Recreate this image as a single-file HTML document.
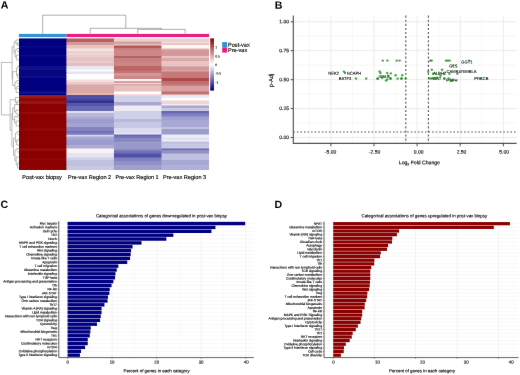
<!DOCTYPE html>
<html lang="en"><head><meta charset="utf-8"><title>Figure</title>
<style>
html,body{margin:0;padding:0;background:#fff;}
body{width:520px;height:375px;overflow:hidden;}
svg{display:block;font-family:'Liberation Sans', Arial, Helvetica, sans-serif;}
svg text{font-family:'Liberation Sans', Arial, Helvetica, sans-serif;text-rendering:geometricPrecision;}
</style></head><body>
<svg width="520" height="375" viewBox="0 0 520 375" text-rendering="geometricPrecision">
<defs><filter id="soft" x="0" y="0" width="520" height="375" filterUnits="userSpaceOnUse" color-interpolation-filters="sRGB"><feConvolveMatrix order="3" kernelMatrix="0.00163 0.03713 0.00163 0.03713 0.84497 0.03713 0.00163 0.03713 0.00163" edgeMode="duplicate" preserveAlpha="true"/></filter></defs>
<g filter="url(#soft)">
<rect width="520" height="375" fill="#ffffff"/>
<defs><clipPath id="hc"><rect x="18.9" y="38.1" width="190.2" height="131.8"/></clipPath></defs>
<g clip-path="url(#hc)"><g>
<rect x="18.90" y="38.40" width="48.32" height="8.20" fill="#000080"/>
<rect x="18.90" y="46.00" width="48.32" height="2.10" fill="#0a0a86"/>
<rect x="18.90" y="47.50" width="48.32" height="8.10" fill="#000080"/>
<rect x="18.90" y="55.00" width="48.32" height="2.10" fill="#0c0c88"/>
<rect x="18.90" y="56.50" width="48.32" height="10.10" fill="#000080"/>
<rect x="18.90" y="66.00" width="48.32" height="4.60" fill="#10108a"/>
<rect x="18.90" y="70.00" width="48.32" height="6.60" fill="#06067f"/>
<rect x="18.90" y="76.00" width="48.32" height="2.60" fill="#0e0e8a"/>
<rect x="18.90" y="78.00" width="48.32" height="14.10" fill="#000080"/>
<rect x="18.90" y="91.50" width="48.32" height="2.60" fill="#141490"/>
<rect x="18.90" y="93.50" width="48.32" height="2.10" fill="#000080"/>
<rect x="18.90" y="95.00" width="48.32" height="3.60" fill="#9a1a1a"/>
<rect x="18.90" y="98.00" width="48.32" height="3.60" fill="#8e0808"/>
<rect x="18.90" y="101.00" width="48.32" height="3.60" fill="#961414"/>
<rect x="18.90" y="104.00" width="48.32" height="8.60" fill="#8b0000"/>
<rect x="18.90" y="112.00" width="48.32" height="2.60" fill="#900a0a"/>
<rect x="18.90" y="114.00" width="48.32" height="14.60" fill="#8b0000"/>
<rect x="18.90" y="128.00" width="48.32" height="3.60" fill="#8f0808"/>
<rect x="18.90" y="131.00" width="48.32" height="17.60" fill="#8b0000"/>
<rect x="18.90" y="148.00" width="48.32" height="3.60" fill="#920c0c"/>
<rect x="18.90" y="151.00" width="48.32" height="7.60" fill="#8b0000"/>
<rect x="18.90" y="158.00" width="48.32" height="2.60" fill="#8f0606"/>
<rect x="18.90" y="160.00" width="48.32" height="10.20" fill="#8b0000"/>
<rect x="66.42" y="38.40" width="48.32" height="4.20" fill="#b86060"/>
<rect x="66.42" y="42.00" width="48.32" height="3.60" fill="#d49a9a"/>
<rect x="66.42" y="45.00" width="48.32" height="4.10" fill="#e8c4c4"/>
<rect x="66.42" y="48.50" width="48.32" height="3.10" fill="#f5e4e4"/>
<rect x="66.42" y="51.00" width="48.32" height="3.10" fill="#ecd0d0"/>
<rect x="66.42" y="53.50" width="48.32" height="2.10" fill="#f0d8d8"/>
<rect x="66.42" y="55.00" width="48.32" height="3.10" fill="#ebcccc"/>
<rect x="66.42" y="57.50" width="48.32" height="4.10" fill="#e6c2c2"/>
<rect x="66.42" y="61.00" width="48.32" height="2.60" fill="#e9c9c9"/>
<rect x="66.42" y="63.00" width="48.32" height="3.60" fill="#e4bebe"/>
<rect x="66.42" y="66.00" width="48.32" height="4.10" fill="#e8e8f4"/>
<rect x="66.42" y="69.50" width="48.32" height="2.60" fill="#fcfcff"/>
<rect x="66.42" y="71.50" width="48.32" height="3.10" fill="#e4e4f2"/>
<rect x="66.42" y="74.00" width="48.32" height="6.10" fill="#ffffff"/>
<rect x="66.42" y="79.50" width="48.32" height="3.10" fill="#f3dede"/>
<rect x="66.42" y="82.00" width="48.32" height="3.10" fill="#ebcaca"/>
<rect x="66.42" y="84.50" width="48.32" height="9.10" fill="#dba8a8"/>
<rect x="66.42" y="93.00" width="48.32" height="2.60" fill="#e8b4a8"/>
<rect x="66.42" y="95.00" width="48.32" height="4.60" fill="#5050a8"/>
<rect x="66.42" y="99.00" width="48.32" height="2.60" fill="#4545a0"/>
<rect x="66.42" y="101.00" width="48.32" height="2.30" fill="#2a2a90"/>
<rect x="66.42" y="102.70" width="48.32" height="3.90" fill="#5555aa"/>
<rect x="66.42" y="106.00" width="48.32" height="5.60" fill="#6868b4"/>
<rect x="66.42" y="111.00" width="48.32" height="2.60" fill="#e0e0f0"/>
<rect x="66.42" y="113.00" width="48.32" height="4.60" fill="#b8b8dc"/>
<rect x="66.42" y="117.00" width="48.32" height="3.10" fill="#a8a8d4"/>
<rect x="66.42" y="119.50" width="48.32" height="4.10" fill="#9c9cce"/>
<rect x="66.42" y="123.00" width="48.32" height="4.60" fill="#a4a4d2"/>
<rect x="66.42" y="127.00" width="48.32" height="4.60" fill="#8484c2"/>
<rect x="66.42" y="131.00" width="48.32" height="3.10" fill="#7070b8"/>
<rect x="66.42" y="133.50" width="48.32" height="2.10" fill="#9090c8"/>
<rect x="66.42" y="135.00" width="48.32" height="2.10" fill="#d8d8ec"/>
<rect x="66.42" y="136.50" width="48.32" height="3.60" fill="#a8a8d4"/>
<rect x="66.42" y="139.50" width="48.32" height="6.10" fill="#9c9cce"/>
<rect x="66.42" y="145.00" width="48.32" height="4.10" fill="#acacd6"/>
<rect x="66.42" y="148.50" width="48.32" height="5.10" fill="#fbf3f3"/>
<rect x="66.42" y="153.00" width="48.32" height="5.10" fill="#e4e4f2"/>
<rect x="66.42" y="157.50" width="48.32" height="3.10" fill="#d0d0e8"/>
<rect x="66.42" y="160.00" width="48.32" height="6.60" fill="#c0c0e0"/>
<rect x="66.42" y="166.00" width="48.32" height="4.20" fill="#c8c8e4"/>
<rect x="113.95" y="38.40" width="48.33" height="3.70" fill="#ecd0d0"/>
<rect x="113.95" y="41.50" width="48.33" height="3.10" fill="#d8a0a0"/>
<rect x="113.95" y="44.00" width="48.33" height="2.10" fill="#e8c4c4"/>
<rect x="113.95" y="45.50" width="48.33" height="3.10" fill="#b85858"/>
<rect x="113.95" y="48.00" width="48.33" height="2.60" fill="#c87c7c"/>
<rect x="113.95" y="50.00" width="48.33" height="6.60" fill="#cc8888"/>
<rect x="113.95" y="56.00" width="48.33" height="2.60" fill="#b86060"/>
<rect x="113.95" y="58.00" width="48.33" height="4.60" fill="#c88080"/>
<rect x="113.95" y="62.00" width="48.33" height="4.60" fill="#cb8686"/>
<rect x="113.95" y="66.00" width="48.33" height="5.10" fill="#bc6464"/>
<rect x="113.95" y="70.50" width="48.33" height="3.10" fill="#c47474"/>
<rect x="113.95" y="73.00" width="48.33" height="3.60" fill="#d49898"/>
<rect x="113.95" y="76.00" width="48.33" height="3.60" fill="#cc8888"/>
<rect x="113.95" y="79.00" width="48.33" height="2.60" fill="#fcf4f4"/>
<rect x="113.95" y="81.00" width="48.33" height="2.60" fill="#d8a0a0"/>
<rect x="113.95" y="83.00" width="48.33" height="1.60" fill="#f0d8d8"/>
<rect x="113.95" y="84.00" width="48.33" height="2.10" fill="#dca8a8"/>
<rect x="113.95" y="85.50" width="48.33" height="6.60" fill="#e8c0c0"/>
<rect x="113.95" y="91.50" width="48.33" height="3.10" fill="#ffffff"/>
<rect x="113.95" y="94.00" width="48.33" height="2.10" fill="#f4dcd8"/>
<rect x="113.95" y="95.50" width="48.33" height="7.10" fill="#d0d0e8"/>
<rect x="113.95" y="102.00" width="48.33" height="4.10" fill="#a8a8d4"/>
<rect x="113.95" y="105.50" width="48.33" height="2.60" fill="#f8e8e8"/>
<rect x="113.95" y="107.50" width="48.33" height="4.10" fill="#ececf6"/>
<rect x="113.95" y="111.00" width="48.33" height="8.60" fill="#d0d0e8"/>
<rect x="113.95" y="119.00" width="48.33" height="3.60" fill="#b8b8dc"/>
<rect x="113.95" y="122.00" width="48.33" height="6.60" fill="#c8c8e4"/>
<rect x="113.95" y="128.00" width="48.33" height="6.10" fill="#dcdcee"/>
<rect x="113.95" y="133.50" width="48.33" height="1.60" fill="#f4f4fa"/>
<rect x="113.95" y="134.50" width="48.33" height="2.10" fill="#6464b2"/>
<rect x="113.95" y="136.00" width="48.33" height="2.60" fill="#7474ba"/>
<rect x="113.95" y="138.00" width="48.33" height="4.60" fill="#8888c4"/>
<rect x="113.95" y="142.00" width="48.33" height="1.60" fill="#a0a0d0"/>
<rect x="113.95" y="143.00" width="48.33" height="7.10" fill="#9898cc"/>
<rect x="113.95" y="149.50" width="48.33" height="2.10" fill="#8080c0"/>
<rect x="113.95" y="151.00" width="48.33" height="3.10" fill="#7070b8"/>
<rect x="113.95" y="153.50" width="48.33" height="4.60" fill="#5050a8"/>
<rect x="113.95" y="157.50" width="48.33" height="4.10" fill="#8080c0"/>
<rect x="113.95" y="161.00" width="48.33" height="4.60" fill="#9090c8"/>
<rect x="113.95" y="165.00" width="48.33" height="5.20" fill="#a0a0d0"/>
<rect x="161.47" y="38.40" width="48.33" height="4.20" fill="#ecd0d0"/>
<rect x="161.47" y="42.00" width="48.33" height="1.60" fill="#f4e0e0"/>
<rect x="161.47" y="43.00" width="48.33" height="2.60" fill="#e8c4c4"/>
<rect x="161.47" y="45.00" width="48.33" height="4.10" fill="#fcf6f4"/>
<rect x="161.47" y="48.50" width="48.33" height="2.10" fill="#e0b0b0"/>
<rect x="161.47" y="50.00" width="48.33" height="6.60" fill="#d49898"/>
<rect x="161.47" y="56.00" width="48.33" height="2.60" fill="#e8c4c4"/>
<rect x="161.47" y="58.00" width="48.33" height="3.60" fill="#dca8a8"/>
<rect x="161.47" y="61.00" width="48.33" height="6.10" fill="#e8c4c4"/>
<rect x="161.47" y="66.50" width="48.33" height="4.10" fill="#d49898"/>
<rect x="161.47" y="70.00" width="48.33" height="2.10" fill="#dca8a8"/>
<rect x="161.47" y="71.50" width="48.33" height="7.10" fill="#c47878"/>
<rect x="161.47" y="78.00" width="48.33" height="3.60" fill="#b04848"/>
<rect x="161.47" y="81.00" width="48.33" height="4.10" fill="#c07070"/>
<rect x="161.47" y="84.50" width="48.33" height="2.10" fill="#c88484"/>
<rect x="161.47" y="86.00" width="48.33" height="6.10" fill="#d8a0a0"/>
<rect x="161.47" y="91.50" width="48.33" height="3.60" fill="#c07070"/>
<rect x="161.47" y="94.50" width="48.33" height="2.10" fill="#f0e0e4"/>
<rect x="161.47" y="96.00" width="48.33" height="2.60" fill="#ececf6"/>
<rect x="161.47" y="98.00" width="48.33" height="3.10" fill="#ffffff"/>
<rect x="161.47" y="100.50" width="48.33" height="4.10" fill="#f0d4d4"/>
<rect x="161.47" y="104.00" width="48.33" height="2.10" fill="#f8ecec"/>
<rect x="161.47" y="105.50" width="48.33" height="3.10" fill="#a8a8d4"/>
<rect x="161.47" y="108.00" width="48.33" height="3.60" fill="#c8c8e4"/>
<rect x="161.47" y="111.00" width="48.33" height="3.10" fill="#6868b4"/>
<rect x="161.47" y="113.50" width="48.33" height="3.60" fill="#8080c0"/>
<rect x="161.47" y="116.50" width="48.33" height="4.10" fill="#a0a0d0"/>
<rect x="161.47" y="120.00" width="48.33" height="7.60" fill="#a8a8d4"/>
<rect x="161.47" y="127.00" width="48.33" height="2.60" fill="#c0c0e0"/>
<rect x="161.47" y="129.00" width="48.33" height="5.60" fill="#9c9cce"/>
<rect x="161.47" y="134.00" width="48.33" height="1.60" fill="#c4c4e2"/>
<rect x="161.47" y="135.00" width="48.33" height="3.60" fill="#ececf6"/>
<rect x="161.47" y="138.00" width="48.33" height="2.10" fill="#dcdcee"/>
<rect x="161.47" y="139.50" width="48.33" height="2.60" fill="#ececf6"/>
<rect x="161.47" y="141.50" width="48.33" height="3.10" fill="#c0c0e0"/>
<rect x="161.47" y="144.00" width="48.33" height="5.10" fill="#c8c8e4"/>
<rect x="161.47" y="148.50" width="48.33" height="2.10" fill="#6868b4"/>
<rect x="161.47" y="150.00" width="48.33" height="4.10" fill="#9090c8"/>
<rect x="161.47" y="153.50" width="48.33" height="7.10" fill="#c0c0e0"/>
<rect x="161.47" y="160.00" width="48.33" height="5.60" fill="#a8a8d4"/>
<rect x="161.47" y="165.00" width="48.33" height="5.20" fill="#b0b0d8"/>
</g></g>
<rect x="18.9" y="33.9" width="47.52" height="3.2" fill="#3392cf"/>
<rect x="66.42" y="33.9" width="142.57" height="3.2" fill="#e81d84"/>
<path d="M42.7 33.6V15.2H125.8V28.3 M90.2 33.6V28.3H161.5V29.4 M137.7 33.6V29.4H185.2V33.6" fill="none" stroke="#6e6e6e" stroke-width="0.55"/>
<path d="M1.4 114.9V62.4H12.1 M1.4 114.9H10.1 M14.1 46.7H12.1V78.5H12.6 M16 41.9H14.1V53H15.2 M18.9 40H16V44H17.5 M17.5 42.8V45.4H18.9 M17.5 42.8H18.9 M15.2 50V57H16.4 M15.2 50H17V48.5H18.9 M17 51.5H18.9 M16.4 55V60H18.9 M16.4 55H18.9 M16.5 71.7H12.6V85.4H15 M16.5 68V75.5H17.6 M16.5 68H17.8V66H18.9 M17.8 70H18.9 M17.6 74V78H18.9 M17.6 74H18.9 M15 82V89H16.2 M15 82H17V80.5H18.9 M17 83.6H18.9 M16.2 87V92.5H18.9 M16.2 87H17.6V86H18.9 M17.6 88.5H18.9 M15.5 99.7H10.1V130.3H11.9 M15.5 97.5V102.5H17 M15.5 97.5H18.9 M17 101V104.5H18.9 M17 101H18.9 M12.6 113.3H11.9 M11.9 113.3V146.2H13.5 M14.6 108H12.6V113.3 M14.6 104.5V112H16 M14.6 104.5H17V103.5 M16 110V114H18.9 M16 110H18.9 M12.6 113.3V119.7H14.6 M14.6 116.5V123H16.2 M14.6 116.5H17.5V115.5H18.9 M17.5 117.8H18.9 M16.2 121V126H18.9 M16.2 121H18.9 M13.5 138.3V155.4H15 M13.5 138.3H15.4 M15.4 133V142H16.6 M15.4 133H17.4V131.5H18.9 M17.4 134.6H18.9 M16.6 140V145H18.9 M16.6 140H18.9 M15 150V161H16.2 M15 150H17V148.5H18.9 M17 152H18.9 M16.2 157V165H17.4 M16.2 157H18.9 M17.4 163V168H18.9 M17.4 163H18.9" fill="none" stroke="#7a7a7a" stroke-width="0.5"/>
<text x="42.1" y="179" font-size="5.6" text-anchor="middle" fill="#111" transform="rotate(0.03 42.1 179)" stroke="#111" stroke-width="0.164">Post-vax biopsy</text>
<text x="89.6" y="179" font-size="5.6" text-anchor="middle" fill="#111" transform="rotate(0.03 89.6 179)" stroke="#111" stroke-width="0.164">Pre-vax Region 2</text>
<text x="137.1" y="179" font-size="5.6" text-anchor="middle" fill="#111" transform="rotate(0.03 137.1 179)" stroke="#111" stroke-width="0.164">Pre-vax Region 1</text>
<text x="184.6" y="179" font-size="5.6" text-anchor="middle" fill="#111" transform="rotate(0.03 184.6 179)" stroke="#111" stroke-width="0.164">Pre-vax Region 3</text>
<defs><linearGradient id="cb" x1="0" y1="0" x2="0" y2="1"><stop offset="0" stop-color="#8b0000"/><stop offset="0.5" stop-color="#ffffff"/><stop offset="1" stop-color="#000080"/></linearGradient></defs>
<rect x="210.2" y="38.4" width="3.8" height="52.2" fill="url(#cb)"/>
<text x="215.3" y="48.5" font-size="3.3" fill="#222" transform="rotate(0.03 215.3 48.5)" stroke="#222" stroke-width="0.150">1</text>
<text x="215.3" y="57.4" font-size="3.3" fill="#222" transform="rotate(0.03 215.3 57.4)" stroke="#222" stroke-width="0.150">0.5</text>
<text x="215.3" y="65.9" font-size="3.3" fill="#222" transform="rotate(0.03 215.3 65.9)" stroke="#222" stroke-width="0.150">0</text>
<text x="215.3" y="74.5" font-size="3.3" fill="#222" transform="rotate(0.03 215.3 74.5)" stroke="#222" stroke-width="0.150">-0.5</text>
<text x="215.3" y="83.7" font-size="3.3" fill="#222" transform="rotate(0.03 215.3 83.7)" stroke="#222" stroke-width="0.150">-1</text>
<rect x="222.2" y="42.1" width="4.9" height="5.3" fill="#3392cf"/>
<rect x="222.2" y="47.4" width="4.9" height="5.2" fill="#e81d84"/>
<text x="228" y="46.8" font-size="5.6" fill="#111" transform="rotate(0.03 228 46.8)" stroke="#111" stroke-width="0.164">Post-vax</text>
<text x="228" y="52.1" font-size="5.6" fill="#111" transform="rotate(0.03 228 52.1)" stroke="#111" stroke-width="0.164">Pre-vax</text>
<text x="0.7" y="8.5" font-size="10.6" font-weight="bold" fill="#000" transform="rotate(0.03 0.7 8.5)">A</text>
<text x="274.7" y="8.7" font-size="10.6" font-weight="bold" fill="#000" transform="rotate(0.03 274.7 8.7)">B</text>
<text x="0.4" y="208.1" font-size="10.6" font-weight="bold" fill="#000" transform="rotate(0.03 0.4 208.1)">C</text>
<text x="274.6" y="208.0" font-size="10.6" font-weight="bold" fill="#000" transform="rotate(0.03 274.6 208.0)">D</text>
<line x1="309.4" x2="309.4" y1="15.6" y2="143.4" stroke="#f0f0f0" stroke-width="0.55"/><line x1="352.5" x2="352.5" y1="15.6" y2="143.4" stroke="#f0f0f0" stroke-width="0.55"/><line x1="395.6" x2="395.6" y1="15.6" y2="143.4" stroke="#f0f0f0" stroke-width="0.55"/><line x1="438.7" x2="438.7" y1="15.6" y2="143.4" stroke="#f0f0f0" stroke-width="0.55"/><line x1="481.8" x2="481.8" y1="15.6" y2="143.4" stroke="#f0f0f0" stroke-width="0.55"/><line x1="330.9" x2="330.9" y1="15.6" y2="143.4" stroke="#e6e6e6" stroke-width="0.8"/><line x1="374.0" x2="374.0" y1="15.6" y2="143.4" stroke="#e6e6e6" stroke-width="0.8"/><line x1="417.1" x2="417.1" y1="15.6" y2="143.4" stroke="#e6e6e6" stroke-width="0.8"/><line x1="460.2" x2="460.2" y1="15.6" y2="143.4" stroke="#e6e6e6" stroke-width="0.8"/><line x1="503.3" x2="503.3" y1="15.6" y2="143.4" stroke="#e6e6e6" stroke-width="0.8"/><line x1="293.3" x2="516.7" y1="123.0" y2="123.0" stroke="#f0f0f0" stroke-width="0.55"/><line x1="293.3" x2="516.7" y1="94.1" y2="94.1" stroke="#f0f0f0" stroke-width="0.55"/><line x1="293.3" x2="516.7" y1="65.2" y2="65.2" stroke="#f0f0f0" stroke-width="0.55"/><line x1="293.3" x2="516.7" y1="36.3" y2="36.3" stroke="#f0f0f0" stroke-width="0.55"/><line x1="293.3" x2="516.7" y1="137.5" y2="137.5" stroke="#e6e6e6" stroke-width="0.8"/><line x1="293.3" x2="516.7" y1="108.6" y2="108.6" stroke="#e6e6e6" stroke-width="0.8"/><line x1="293.3" x2="516.7" y1="79.7" y2="79.7" stroke="#e6e6e6" stroke-width="0.8"/><line x1="293.3" x2="516.7" y1="50.7" y2="50.7" stroke="#e6e6e6" stroke-width="0.8"/><line x1="293.3" x2="516.7" y1="21.8" y2="21.8" stroke="#e6e6e6" stroke-width="0.8"/>
<line x1="405.8" x2="405.8" y1="15.6" y2="143.4" stroke="#5e5e5e" stroke-width="1.15" stroke-dasharray="2.1 2"/>
<line x1="428.4" x2="428.4" y1="15.6" y2="143.4" stroke="#5e5e5e" stroke-width="1.15" stroke-dasharray="2.1 2"/>
<line x1="293.3" x2="516.7" y1="132" y2="132" stroke="#4a4a4a" stroke-width="1.2" stroke-dasharray="1.5 2.06"/>
<text x="328.3" y="74.8" font-size="4.15" fill="#000" transform="rotate(0.03 328.3 74.8)" stroke="#000" stroke-width="0.070">NEK2</text>
<text x="346.8" y="74.8" font-size="4.15" fill="#000" transform="rotate(0.03 346.8 74.8)" stroke="#000" stroke-width="0.070">NCAPH</text>
<text x="338.7" y="79.9" font-size="4.15" fill="#000" transform="rotate(0.03 338.7 79.9)" stroke="#000" stroke-width="0.070">BATF3</text>
<text x="378.5" y="77.9" font-size="4.15" fill="#000" transform="rotate(0.03 378.5 77.9)" stroke="#000" stroke-width="0.070">IGLL5</text>
<text x="461.2" y="63.4" font-size="4.15" fill="#000" transform="rotate(0.03 461.2 63.4)" stroke="#000" stroke-width="0.070">GGT1</text>
<text x="449.2" y="67.6" font-size="4.15" fill="#000" transform="rotate(0.03 449.2 67.6)" stroke="#000" stroke-width="0.070">GLS</text>
<text x="446.5" y="72.9" font-size="4.15" fill="#000" transform="rotate(0.03 446.5 72.9)" stroke="#000" stroke-width="0.070">CAMK4</text>
<text x="461.2" y="72.9" font-size="4.15" fill="#000" transform="rotate(0.03 461.2 72.9)" stroke="#000" stroke-width="0.070">RIMKLA</text>
<text x="474.2" y="79.9" font-size="4.15" fill="#000" transform="rotate(0.03 474.2 79.9)" stroke="#000" stroke-width="0.070">PRKCB</text>
<text x="446.2" y="81.7" font-size="4.15" fill="#000" transform="rotate(0.03 446.2 81.7)" stroke="#000" stroke-width="0.070">PSPH</text>
<text x="433" y="74.8" font-size="4.15" fill="#000" transform="rotate(0.03 433 74.8)" stroke="#000" stroke-width="0.070">ALDH2</text>
<text x="433" y="79.9" font-size="4.15" fill="#000" transform="rotate(0.03 433 79.9)" stroke="#000" stroke-width="0.070">OAT</text>
<g fill="#008000" fill-opacity="0.7"><circle cx="382.8" cy="60.6" r="1.2"/><circle cx="387.4" cy="60.6" r="1.2"/><circle cx="396.8" cy="60.6" r="1.2"/><circle cx="399.6" cy="60.6" r="1.2"/><circle cx="430.2" cy="60.6" r="1.2"/><circle cx="431.6" cy="60.6" r="1.2"/><circle cx="446" cy="60.6" r="1.2"/><circle cx="447.8" cy="60.6" r="1.2"/><circle cx="449.6" cy="60.6" r="1.2"/><circle cx="469.2" cy="60.6" r="1.2"/><circle cx="343.9" cy="71.6" r="1.2"/><circle cx="345" cy="73" r="1.2"/><circle cx="356" cy="78.5" r="1.2"/><circle cx="366.2" cy="78.5" r="1.2"/><circle cx="379.6" cy="71.4" r="1.2"/><circle cx="380.4" cy="73" r="1.2"/><circle cx="387.2" cy="73" r="1.2"/><circle cx="390.8" cy="73.4" r="1.2"/><circle cx="395.6" cy="75.2" r="1.2"/><circle cx="402.2" cy="75.2" r="1.2"/><circle cx="377.4" cy="78.6" r="1.2"/><circle cx="377.8" cy="78.8" r="1.2"/><circle cx="390.4" cy="78.6" r="1.2"/><circle cx="390.7" cy="78.4" r="1.2"/><circle cx="397.6" cy="78.6" r="1.2"/><circle cx="401.6" cy="78.6" r="1.2"/><circle cx="401.3" cy="78.4" r="1.2"/><circle cx="405.6" cy="78.6" r="1.2"/><circle cx="382" cy="77.8" r="1.2"/><circle cx="387.2" cy="79.4" r="1.2"/><circle cx="386" cy="80.6" r="1.2"/><circle cx="388" cy="75.8" r="1.2"/><circle cx="384.5" cy="76.8" r="1.2"/><circle cx="431.8" cy="69.8" r="1.2"/><circle cx="442" cy="69.8" r="1.2"/><circle cx="428.2" cy="71.8" r="1.2"/><circle cx="433" cy="73.8" r="1.2"/><circle cx="435.8" cy="73.8" r="1.2"/><circle cx="439.4" cy="73.8" r="1.2"/><circle cx="443.8" cy="73.8" r="1.2"/><circle cx="449.4" cy="73.8" r="1.2"/><circle cx="457.4" cy="73.8" r="1.2"/><circle cx="453.4" cy="65.4" r="1.2"/><circle cx="470" cy="71.5" r="1.2"/><circle cx="429.8" cy="78.4" r="1.2"/><circle cx="431.5" cy="78.5" r="1.2"/><circle cx="433" cy="78.3" r="1.2"/><circle cx="435" cy="78.5" r="1.2"/><circle cx="444.2" cy="78.4" r="1.2"/><circle cx="444.5" cy="78.6" r="1.2"/><circle cx="448.6" cy="78.4" r="1.2"/><circle cx="451" cy="80.4" r="1.2"/><circle cx="452.3" cy="80.5" r="1.2"/><circle cx="480.8" cy="78.5" r="1.2"/><circle cx="437" cy="77.6" r="1.2"/><circle cx="440.5" cy="75.8" r="1.2"/></g>
<path d="M293.3 15.6V143.4H516.7" fill="none" stroke="#555" stroke-width="1.15"/>
<path d="M290.6 137.5H293.3 M290.6 108.6H293.3 M290.6 79.7H293.3 M290.6 50.7H293.3 M290.6 21.8H293.3 M330.9 143.4V146.3 M374.0 143.4V146.3 M417.1 143.4V146.3 M460.2 143.4V146.3 M503.3 143.4V146.3" stroke="#333" stroke-width="0.85" fill="none"/>
<text x="289.0" y="139.0" font-size="5.05" text-anchor="end" fill="#222" transform="rotate(0.03 289.0 139.0)" stroke="#222" stroke-width="0.160">0.00</text>
<text x="289.0" y="110.1" font-size="5.05" text-anchor="end" fill="#222" transform="rotate(0.03 289.0 110.1)" stroke="#222" stroke-width="0.160">0.25</text>
<text x="289.0" y="81.2" font-size="5.05" text-anchor="end" fill="#222" transform="rotate(0.03 289.0 81.2)" stroke="#222" stroke-width="0.160">0.50</text>
<text x="289.0" y="52.2" font-size="5.05" text-anchor="end" fill="#222" transform="rotate(0.03 289.0 52.2)" stroke="#222" stroke-width="0.160">0.75</text>
<text x="289.0" y="23.3" font-size="5.05" text-anchor="end" fill="#222" transform="rotate(0.03 289.0 23.3)" stroke="#222" stroke-width="0.160">1.00</text>
<text x="330.5" y="153.4" font-size="5" text-anchor="middle" fill="#222" transform="rotate(0.03 330.5 153.4)" stroke="#222" stroke-width="0.160">-5.00</text>
<text x="374.5" y="153.4" font-size="5" text-anchor="middle" fill="#222" transform="rotate(0.03 374.5 153.4)" stroke="#222" stroke-width="0.160">-2.50</text>
<text x="418.6" y="153.4" font-size="5" text-anchor="middle" fill="#222" transform="rotate(0.03 418.6 153.4)" stroke="#222" stroke-width="0.160">0.00</text>
<text x="461.5" y="153.4" font-size="5" text-anchor="middle" fill="#222" transform="rotate(0.03 461.5 153.4)" stroke="#222" stroke-width="0.160">2.50</text>
<text x="504.1" y="153.4" font-size="5" text-anchor="middle" fill="#222" transform="rotate(0.03 504.1 153.4)" stroke="#222" stroke-width="0.160">5.00</text>
<text x="398.8" y="164.3" font-size="5.1" fill="#111" transform="rotate(0.03 398.8 164.3)" stroke="#111" stroke-width="0.161">Log<tspan font-size="3.6" dy="1.1">2</tspan><tspan dy="-1.1"> Fold Change</tspan></text>
<text transform="translate(272.9 80.5) rotate(-89.97)" font-size="5.8" text-anchor="middle" fill="#111" stroke="#111" stroke-width="0.165">p-Adj</text>
<line x1="89.8" x2="89.8" y1="221.2" y2="357.6" stroke="#f4f4f4" stroke-width="0.4"/><line x1="134.4" x2="134.4" y1="221.2" y2="357.6" stroke="#f4f4f4" stroke-width="0.4"/><line x1="179" x2="179" y1="221.2" y2="357.6" stroke="#f4f4f4" stroke-width="0.4"/><line x1="223.5" x2="223.5" y1="221.2" y2="357.6" stroke="#f4f4f4" stroke-width="0.4"/><line x1="112.1" x2="112.1" y1="221.2" y2="357.6" stroke="#ebebeb" stroke-width="0.55"/><line x1="156.7" x2="156.7" y1="221.2" y2="357.6" stroke="#ebebeb" stroke-width="0.55"/><line x1="201.2" x2="201.2" y1="221.2" y2="357.6" stroke="#ebebeb" stroke-width="0.55"/><line x1="245.8" x2="245.8" y1="221.2" y2="357.6" stroke="#ebebeb" stroke-width="0.55"/><path d="M58.8 223.55H253.8 M58.8 227.42H253.8 M58.8 231.29H253.8 M58.8 235.16H253.8 M58.8 239.03H253.8 M58.8 242.90H253.8 M58.8 246.77H253.8 M58.8 250.64H253.8 M58.8 254.51H253.8 M58.8 258.38H253.8 M58.8 262.25H253.8 M58.8 266.12H253.8 M58.8 269.99H253.8 M58.8 273.86H253.8 M58.8 277.73H253.8 M58.8 281.60H253.8 M58.8 285.47H253.8 M58.8 289.34H253.8 M58.8 293.21H253.8 M58.8 297.08H253.8 M58.8 300.95H253.8 M58.8 304.82H253.8 M58.8 308.69H253.8 M58.8 312.56H253.8 M58.8 316.43H253.8 M58.8 320.30H253.8 M58.8 324.17H253.8 M58.8 328.04H253.8 M58.8 331.91H253.8 M58.8 335.78H253.8 M58.8 339.65H253.8 M58.8 343.52H253.8 M58.8 347.39H253.8 M58.8 351.26H253.8 M58.8 355.13H253.8" stroke="#efefef" stroke-width="0.45" fill="none"/><rect x="67.55" y="221.84" width="177.6" height="3.42495" fill="#000080"/><rect x="67.55" y="225.71" width="147.9" height="3.42495" fill="#000080"/><rect x="67.55" y="229.58" width="143.9" height="3.42495" fill="#000080"/><rect x="67.55" y="233.45" width="105.8" height="3.42495" fill="#000080"/><rect x="67.55" y="237.32" width="98.8" height="3.42495" fill="#000080"/><rect x="67.55" y="241.19" width="74.0" height="3.42495" fill="#000080"/><rect x="67.55" y="245.06" width="65.0" height="3.42495" fill="#000080"/><rect x="67.55" y="248.93" width="63.5" height="3.42495" fill="#000080"/><rect x="67.55" y="252.80" width="63.1" height="3.42495" fill="#000080"/><rect x="67.55" y="256.67" width="62.5" height="3.42495" fill="#000080"/><rect x="67.55" y="260.54" width="59.7" height="3.42495" fill="#000080"/><rect x="67.55" y="264.41" width="50.8" height="3.42495" fill="#000080"/><rect x="67.55" y="268.28" width="49.2" height="3.42495" fill="#000080"/><rect x="67.55" y="272.15" width="47.9" height="3.42495" fill="#000080"/><rect x="67.55" y="276.02" width="47.5" height="3.42495" fill="#000080"/><rect x="67.55" y="279.89" width="45.8" height="3.42495" fill="#000080"/><rect x="67.55" y="283.76" width="44.0" height="3.42495" fill="#000080"/><rect x="67.55" y="287.63" width="42.2" height="3.42495" fill="#000080"/><rect x="67.55" y="291.50" width="41.8" height="3.42495" fill="#000080"/><rect x="67.55" y="295.37" width="40.4" height="3.42495" fill="#000080"/><rect x="67.55" y="299.24" width="40.0" height="3.42495" fill="#000080"/><rect x="67.55" y="303.11" width="36.9" height="3.42495" fill="#000080"/><rect x="67.55" y="306.98" width="34.0" height="3.42495" fill="#000080"/><rect x="67.55" y="310.85" width="34.0" height="3.42495" fill="#000080"/><rect x="67.55" y="314.72" width="33.2" height="3.42495" fill="#000080"/><rect x="67.55" y="318.59" width="32.5" height="3.42495" fill="#000080"/><rect x="67.55" y="322.46" width="29.4" height="3.42495" fill="#000080"/><rect x="67.55" y="326.33" width="23.2" height="3.42495" fill="#000080"/><rect x="67.55" y="330.20" width="22.8" height="3.42495" fill="#000080"/><rect x="67.55" y="334.07" width="22.2" height="3.42495" fill="#000080"/><rect x="67.55" y="337.94" width="20.2" height="3.42495" fill="#000080"/><rect x="67.55" y="341.81" width="20.2" height="3.42495" fill="#000080"/><rect x="67.55" y="345.68" width="17.5" height="3.42495" fill="#000080"/><rect x="67.55" y="349.55" width="13.5" height="3.42495" fill="#000080"/><rect x="67.55" y="353.42" width="12.4" height="3.42495" fill="#000080"/><path d="M58.8 221.2V357.6H253.8" fill="none" stroke="#333" stroke-width="0.75"/><path d="M57.6 223.55H58.8 M57.6 227.42H58.8 M57.6 231.29H58.8 M57.6 235.16H58.8 M57.6 239.03H58.8 M57.6 242.90H58.8 M57.6 246.77H58.8 M57.6 250.64H58.8 M57.6 254.51H58.8 M57.6 258.38H58.8 M57.6 262.25H58.8 M57.6 266.12H58.8 M57.6 269.99H58.8 M57.6 273.86H58.8 M57.6 277.73H58.8 M57.6 281.60H58.8 M57.6 285.47H58.8 M57.6 289.34H58.8 M57.6 293.21H58.8 M57.6 297.08H58.8 M57.6 300.95H58.8 M57.6 304.82H58.8 M57.6 308.69H58.8 M57.6 312.56H58.8 M57.6 316.43H58.8 M57.6 320.30H58.8 M57.6 324.17H58.8 M57.6 328.04H58.8 M57.6 331.91H58.8 M57.6 335.78H58.8 M57.6 339.65H58.8 M57.6 343.52H58.8 M57.6 347.39H58.8 M57.6 351.26H58.8 M57.6 355.13H58.8 M67.55 357.6V358.9 M112.1 357.6V358.9 M156.7 357.6V358.9 M201.2 357.6V358.9 M245.8 357.6V358.9" stroke="#333" stroke-width="0.45" fill="none"/><text x="56.8" y="224.50" font-size="3.3" text-anchor="end" fill="#111" transform="rotate(0.03 56.8 224.50)" stroke="#111" stroke-width="0.150">Myc targets</text><text x="56.8" y="228.37" font-size="3.3" text-anchor="end" fill="#111" transform="rotate(0.03 56.8 228.37)" stroke="#111" stroke-width="0.150">Activation markers</text><text x="56.8" y="232.24" font-size="3.3" text-anchor="end" fill="#111" transform="rotate(0.03 56.8 232.24)" stroke="#111" stroke-width="0.150">Cell cycle</text><text x="56.8" y="236.11" font-size="3.3" text-anchor="end" fill="#111" transform="rotate(0.03 56.8 236.11)" stroke="#111" stroke-width="0.150">Th2</text><text x="56.8" y="239.98" font-size="3.3" text-anchor="end" fill="#111" transform="rotate(0.03 56.8 239.98)" stroke="#111" stroke-width="0.150">Notch</text><text x="56.8" y="243.85" font-size="3.3" text-anchor="end" fill="#111" transform="rotate(0.03 56.8 243.85)" stroke="#111" stroke-width="0.150">MAPK and PI3K signaling</text><text x="56.8" y="247.72" font-size="3.3" text-anchor="end" fill="#111" transform="rotate(0.03 56.8 247.72)" stroke="#111" stroke-width="0.150">T cell exhaustion markers</text><text x="56.8" y="251.59" font-size="3.3" text-anchor="end" fill="#111" transform="rotate(0.03 56.8 251.59)" stroke="#111" stroke-width="0.150">Wnt signaling</text><text x="56.8" y="255.46" font-size="3.3" text-anchor="end" fill="#111" transform="rotate(0.03 56.8 255.46)" stroke="#111" stroke-width="0.150">Chemokine signaling</text><text x="56.8" y="259.33" font-size="3.3" text-anchor="end" fill="#111" transform="rotate(0.03 56.8 259.33)" stroke="#111" stroke-width="0.150">Innate-like T cells</text><text x="56.8" y="263.20" font-size="3.3" text-anchor="end" fill="#111" transform="rotate(0.03 56.8 263.20)" stroke="#111" stroke-width="0.150">Apoptosis</text><text x="56.8" y="267.07" font-size="3.3" text-anchor="end" fill="#111" transform="rotate(0.03 56.8 267.07)" stroke="#111" stroke-width="0.150">T cell migration</text><text x="56.8" y="270.94" font-size="3.3" text-anchor="end" fill="#111" transform="rotate(0.03 56.8 270.94)" stroke="#111" stroke-width="0.150">Glutamine metabolism</text><text x="56.8" y="274.81" font-size="3.3" text-anchor="end" fill="#111" transform="rotate(0.03 56.8 274.81)" stroke="#111" stroke-width="0.150">Interleukin signaling</text><text x="56.8" y="278.68" font-size="3.3" text-anchor="end" fill="#111" transform="rotate(0.03 56.8 278.68)" stroke="#111" stroke-width="0.150">TGF-beta</text><text x="56.8" y="282.55" font-size="3.3" text-anchor="end" fill="#111" transform="rotate(0.03 56.8 282.55)" stroke="#111" stroke-width="0.150">Antigen processing and presentation</text><text x="56.8" y="286.42" font-size="3.3" text-anchor="end" fill="#111" transform="rotate(0.03 56.8 286.42)" stroke="#111" stroke-width="0.150">Tfh</text><text x="56.8" y="290.29" font-size="3.3" text-anchor="end" fill="#111" transform="rotate(0.03 56.8 290.29)" stroke="#111" stroke-width="0.150">NF-kB</text><text x="56.8" y="294.16" font-size="3.3" text-anchor="end" fill="#111" transform="rotate(0.03 56.8 294.16)" stroke="#111" stroke-width="0.150">JAK-STAT</text><text x="56.8" y="298.03" font-size="3.3" text-anchor="end" fill="#111" transform="rotate(0.03 56.8 298.03)" stroke="#111" stroke-width="0.150">Type I interferon signaling</text><text x="56.8" y="301.90" font-size="3.3" text-anchor="end" fill="#111" transform="rotate(0.03 56.8 301.90)" stroke="#111" stroke-width="0.150">One-carbon metabolism</text><text x="56.8" y="305.77" font-size="3.3" text-anchor="end" fill="#111" transform="rotate(0.03 56.8 305.77)" stroke="#111" stroke-width="0.150">Th17</text><text x="56.8" y="309.64" font-size="3.3" text-anchor="end" fill="#111" transform="rotate(0.03 56.8 309.64)" stroke="#111" stroke-width="0.150">Vitamin A (RA) signaling</text><text x="56.8" y="313.51" font-size="3.3" text-anchor="end" fill="#111" transform="rotate(0.03 56.8 313.51)" stroke="#111" stroke-width="0.150">Lipid metabolism</text><text x="56.8" y="317.38" font-size="3.3" text-anchor="end" fill="#111" transform="rotate(0.03 56.8 317.38)" stroke="#111" stroke-width="0.150">Interactions with non-lymphoid cells</text><text x="56.8" y="321.25" font-size="3.3" text-anchor="end" fill="#111" transform="rotate(0.03 56.8 321.25)" stroke="#111" stroke-width="0.150">TCR signaling</text><text x="56.8" y="325.12" font-size="3.3" text-anchor="end" fill="#111" transform="rotate(0.03 56.8 325.12)" stroke="#111" stroke-width="0.150">Cytotoxicity</text><text x="56.8" y="328.99" font-size="3.3" text-anchor="end" fill="#111" transform="rotate(0.03 56.8 328.99)" stroke="#111" stroke-width="0.150">Treg</text><text x="56.8" y="332.86" font-size="3.3" text-anchor="end" fill="#111" transform="rotate(0.03 56.8 332.86)" stroke="#111" stroke-width="0.150">Mitochondrial biogenesis</text><text x="56.8" y="336.73" font-size="3.3" text-anchor="end" fill="#111" transform="rotate(0.03 56.8 336.73)" stroke="#111" stroke-width="0.150">Th1</text><text x="56.8" y="340.60" font-size="3.3" text-anchor="end" fill="#111" transform="rotate(0.03 56.8 340.60)" stroke="#111" stroke-width="0.150">NKT receptors</text><text x="56.8" y="344.47" font-size="3.3" text-anchor="end" fill="#111" transform="rotate(0.03 56.8 344.47)" stroke="#111" stroke-width="0.150">Costimulatory molecules</text><text x="56.8" y="348.34" font-size="3.3" text-anchor="end" fill="#111" transform="rotate(0.03 56.8 348.34)" stroke="#111" stroke-width="0.150">mTOR</text><text x="56.8" y="352.21" font-size="3.3" text-anchor="end" fill="#111" transform="rotate(0.03 56.8 352.21)" stroke="#111" stroke-width="0.150">Oxidative phosphorylation</text><text x="56.8" y="356.08" font-size="3.3" text-anchor="end" fill="#111" transform="rotate(0.03 56.8 356.08)" stroke="#111" stroke-width="0.150">Type II interferon signaling</text><text x="67.6" y="363.45" font-size="4.3" text-anchor="middle" fill="#222" transform="rotate(0.03 67.6 363.45)" stroke="#222" stroke-width="0.156">0</text><text x="112.1" y="363.45" font-size="4.3" text-anchor="middle" fill="#222" transform="rotate(0.03 112.1 363.45)" stroke="#222" stroke-width="0.156">10</text><text x="156.7" y="363.45" font-size="4.3" text-anchor="middle" fill="#222" transform="rotate(0.03 156.7 363.45)" stroke="#222" stroke-width="0.156">20</text><text x="201.1" y="363.45" font-size="4.3" text-anchor="middle" fill="#222" transform="rotate(0.03 201.1 363.45)" stroke="#222" stroke-width="0.156">30</text><text x="246.2" y="363.45" font-size="4.3" text-anchor="middle" fill="#222" transform="rotate(0.03 246.2 363.45)" stroke="#222" stroke-width="0.156">40</text><text x="161.5" y="217.3" font-size="4.37" text-anchor="middle" fill="#111" transform="rotate(0.03 161.5 217.3)" stroke="#111" stroke-width="0.156">Categorical associations of genes downregulated in post-vax biopsy</text><text x="156.6" y="372.3" font-size="4.36" text-anchor="middle" fill="#111" transform="rotate(0.03 156.6 372.3)" stroke="#111" stroke-width="0.156">Percent of genes in each category</text>
<line x1="374.4" x2="374.4" y1="221.5" y2="357.6" stroke="#ebebeb" stroke-width="0.55"/><line x1="415.5" x2="415.5" y1="221.5" y2="357.6" stroke="#ebebeb" stroke-width="0.55"/><line x1="457.0" x2="457.0" y1="221.5" y2="357.6" stroke="#ebebeb" stroke-width="0.55"/><line x1="498.5" x2="498.5" y1="221.5" y2="357.6" stroke="#ebebeb" stroke-width="0.55"/><path d="M324.0 223.70H518.5 M324.0 227.35H518.5 M324.0 231.01H518.5 M324.0 234.66H518.5 M324.0 238.31H518.5 M324.0 241.96H518.5 M324.0 245.62H518.5 M324.0 249.27H518.5 M324.0 252.92H518.5 M324.0 256.58H518.5 M324.0 260.23H518.5 M324.0 263.88H518.5 M324.0 267.54H518.5 M324.0 271.19H518.5 M324.0 274.84H518.5 M324.0 278.50H518.5 M324.0 282.15H518.5 M324.0 285.80H518.5 M324.0 289.45H518.5 M324.0 293.11H518.5 M324.0 296.76H518.5 M324.0 300.41H518.5 M324.0 304.07H518.5 M324.0 307.72H518.5 M324.0 311.37H518.5 M324.0 315.02H518.5 M324.0 318.68H518.5 M324.0 322.33H518.5 M324.0 325.98H518.5 M324.0 329.64H518.5 M324.0 333.29H518.5 M324.0 336.94H518.5 M324.0 340.60H518.5 M324.0 344.25H518.5 M324.0 347.90H518.5 M324.0 351.56H518.5 M324.0 355.21H518.5" stroke="#efefef" stroke-width="0.45" fill="none"/><rect x="333.2" y="222.08" width="176.7" height="3.232905" fill="#8b0000"/><rect x="333.2" y="225.74" width="160.6" height="3.232905" fill="#8b0000"/><rect x="333.2" y="229.39" width="65.9" height="3.232905" fill="#8b0000"/><rect x="333.2" y="233.04" width="63.7" height="3.232905" fill="#8b0000"/><rect x="333.2" y="236.70" width="59.1" height="3.232905" fill="#8b0000"/><rect x="333.2" y="240.35" width="58.8" height="3.232905" fill="#8b0000"/><rect x="333.2" y="244.00" width="54.9" height="3.232905" fill="#8b0000"/><rect x="333.2" y="247.65" width="53.8" height="3.232905" fill="#8b0000"/><rect x="333.2" y="251.31" width="47.6" height="3.232905" fill="#8b0000"/><rect x="333.2" y="254.96" width="46.9" height="3.232905" fill="#8b0000"/><rect x="333.2" y="258.61" width="41.2" height="3.232905" fill="#8b0000"/><rect x="333.2" y="262.27" width="41.0" height="3.232905" fill="#8b0000"/><rect x="333.2" y="265.92" width="38.0" height="3.232905" fill="#8b0000"/><rect x="333.2" y="269.57" width="37.1" height="3.232905" fill="#8b0000"/><rect x="333.2" y="273.23" width="37.1" height="3.232905" fill="#8b0000"/><rect x="333.2" y="276.88" width="37.1" height="3.232905" fill="#8b0000"/><rect x="333.2" y="280.53" width="36.8" height="3.232905" fill="#8b0000"/><rect x="333.2" y="284.18" width="36.5" height="3.232905" fill="#8b0000"/><rect x="333.2" y="287.84" width="35.9" height="3.232905" fill="#8b0000"/><rect x="333.2" y="291.49" width="34.2" height="3.232905" fill="#8b0000"/><rect x="333.2" y="295.14" width="33.9" height="3.232905" fill="#8b0000"/><rect x="333.2" y="298.80" width="33.0" height="3.232905" fill="#8b0000"/><rect x="333.2" y="302.45" width="31.6" height="3.232905" fill="#8b0000"/><rect x="333.2" y="306.10" width="31.4" height="3.232905" fill="#8b0000"/><rect x="333.2" y="309.76" width="29.0" height="3.232905" fill="#8b0000"/><rect x="333.2" y="313.41" width="29.0" height="3.232905" fill="#8b0000"/><rect x="333.2" y="317.06" width="28.1" height="3.232905" fill="#8b0000"/><rect x="333.2" y="320.71" width="27.3" height="3.232905" fill="#8b0000"/><rect x="333.2" y="324.37" width="24.7" height="3.232905" fill="#8b0000"/><rect x="333.2" y="328.02" width="22.6" height="3.232905" fill="#8b0000"/><rect x="333.2" y="331.67" width="19.5" height="3.232905" fill="#8b0000"/><rect x="333.2" y="335.33" width="18.6" height="3.232905" fill="#8b0000"/><rect x="333.2" y="338.98" width="16.5" height="3.232905" fill="#8b0000"/><rect x="333.2" y="342.63" width="12.6" height="3.232905" fill="#8b0000"/><rect x="333.2" y="346.29" width="10.8" height="3.232905" fill="#8b0000"/><rect x="333.2" y="349.94" width="10.5" height="3.232905" fill="#8b0000"/><rect x="333.2" y="353.59" width="7.7" height="3.232905" fill="#8b0000"/><path d="M324.0 221.5V357.6H518.5" fill="none" stroke="#333" stroke-width="0.75"/><path d="M322.8 223.70H324.0 M322.8 227.35H324.0 M322.8 231.01H324.0 M322.8 234.66H324.0 M322.8 238.31H324.0 M322.8 241.96H324.0 M322.8 245.62H324.0 M322.8 249.27H324.0 M322.8 252.92H324.0 M322.8 256.58H324.0 M322.8 260.23H324.0 M322.8 263.88H324.0 M322.8 267.54H324.0 M322.8 271.19H324.0 M322.8 274.84H324.0 M322.8 278.50H324.0 M322.8 282.15H324.0 M322.8 285.80H324.0 M322.8 289.45H324.0 M322.8 293.11H324.0 M322.8 296.76H324.0 M322.8 300.41H324.0 M322.8 304.07H324.0 M322.8 307.72H324.0 M322.8 311.37H324.0 M322.8 315.02H324.0 M322.8 318.68H324.0 M322.8 322.33H324.0 M322.8 325.98H324.0 M322.8 329.64H324.0 M322.8 333.29H324.0 M322.8 336.94H324.0 M322.8 340.60H324.0 M322.8 344.25H324.0 M322.8 347.90H324.0 M322.8 351.56H324.0 M322.8 355.21H324.0 M333.2 357.6V358.9 M374.4 357.6V358.9 M415.5 357.6V358.9 M457.0 357.6V358.9 M498.5 357.6V358.9" stroke="#333" stroke-width="0.45" fill="none"/><text x="322.0" y="224.65" font-size="3.3" text-anchor="end" fill="#111" transform="rotate(0.03 322.0 224.65)" stroke="#111" stroke-width="0.150">NFAT</text><text x="322.0" y="228.30" font-size="3.3" text-anchor="end" fill="#111" transform="rotate(0.03 322.0 228.30)" stroke="#111" stroke-width="0.150">Glutamine metabolism</text><text x="322.0" y="231.96" font-size="3.3" text-anchor="end" fill="#111" transform="rotate(0.03 322.0 231.96)" stroke="#111" stroke-width="0.150">mTOR</text><text x="322.0" y="235.61" font-size="3.3" text-anchor="end" fill="#111" transform="rotate(0.03 322.0 235.61)" stroke="#111" stroke-width="0.150">Vitamin (RA) signaling</text><text x="322.0" y="239.26" font-size="3.3" text-anchor="end" fill="#111" transform="rotate(0.03 322.0 239.26)" stroke="#111" stroke-width="0.150">TGF-beta</text><text x="322.0" y="242.91" font-size="3.3" text-anchor="end" fill="#111" transform="rotate(0.03 322.0 242.91)" stroke="#111" stroke-width="0.150">Circadian clock</text><text x="322.0" y="246.57" font-size="3.3" text-anchor="end" fill="#111" transform="rotate(0.03 322.0 246.57)" stroke="#111" stroke-width="0.150">Autophagy</text><text x="322.0" y="250.22" font-size="3.3" text-anchor="end" fill="#111" transform="rotate(0.03 322.0 250.22)" stroke="#111" stroke-width="0.150">Glycolysis</text><text x="322.0" y="253.87" font-size="3.3" text-anchor="end" fill="#111" transform="rotate(0.03 322.0 253.87)" stroke="#111" stroke-width="0.150">Lipid metabolism</text><text x="322.0" y="257.53" font-size="3.3" text-anchor="end" fill="#111" transform="rotate(0.03 322.0 257.53)" stroke="#111" stroke-width="0.150">T cell migration</text><text x="322.0" y="261.18" font-size="3.3" text-anchor="end" fill="#111" transform="rotate(0.03 322.0 261.18)" stroke="#111" stroke-width="0.150">Th1</text><text x="322.0" y="264.83" font-size="3.3" text-anchor="end" fill="#111" transform="rotate(0.03 322.0 264.83)" stroke="#111" stroke-width="0.150">Tfh</text><text x="322.0" y="268.49" font-size="3.3" text-anchor="end" fill="#111" transform="rotate(0.03 322.0 268.49)" stroke="#111" stroke-width="0.150">Interactions with non-lymphoid cells</text><text x="322.0" y="272.14" font-size="3.3" text-anchor="end" fill="#111" transform="rotate(0.03 322.0 272.14)" stroke="#111" stroke-width="0.150">TCR signaling</text><text x="322.0" y="275.79" font-size="3.3" text-anchor="end" fill="#111" transform="rotate(0.03 322.0 275.79)" stroke="#111" stroke-width="0.150">One-carbon metabolism</text><text x="322.0" y="279.44" font-size="3.3" text-anchor="end" fill="#111" transform="rotate(0.03 322.0 279.44)" stroke="#111" stroke-width="0.150">Costimulatory molecules</text><text x="322.0" y="283.10" font-size="3.3" text-anchor="end" fill="#111" transform="rotate(0.03 322.0 283.10)" stroke="#111" stroke-width="0.150">Innate-like T cells</text><text x="322.0" y="286.75" font-size="3.3" text-anchor="end" fill="#111" transform="rotate(0.03 322.0 286.75)" stroke="#111" stroke-width="0.150">Chemokine signaling</text><text x="322.0" y="290.40" font-size="3.3" text-anchor="end" fill="#111" transform="rotate(0.03 322.0 290.40)" stroke="#111" stroke-width="0.150">Wnt signaling</text><text x="322.0" y="294.06" font-size="3.3" text-anchor="end" fill="#111" transform="rotate(0.03 322.0 294.06)" stroke="#111" stroke-width="0.150">Treg</text><text x="322.0" y="297.71" font-size="3.3" text-anchor="end" fill="#111" transform="rotate(0.03 322.0 297.71)" stroke="#111" stroke-width="0.150">T cell exhaustion markers</text><text x="322.0" y="301.36" font-size="3.3" text-anchor="end" fill="#111" transform="rotate(0.03 322.0 301.36)" stroke="#111" stroke-width="0.150">JAK-STAT</text><text x="322.0" y="305.02" font-size="3.3" text-anchor="end" fill="#111" transform="rotate(0.03 322.0 305.02)" stroke="#111" stroke-width="0.150">Mitochondrial biogenesis</text><text x="322.0" y="308.67" font-size="3.3" text-anchor="end" fill="#111" transform="rotate(0.03 322.0 308.67)" stroke="#111" stroke-width="0.150">Apoptosis</text><text x="322.0" y="312.32" font-size="3.3" text-anchor="end" fill="#111" transform="rotate(0.03 322.0 312.32)" stroke="#111" stroke-width="0.150">NF-kB</text><text x="322.0" y="315.97" font-size="3.3" text-anchor="end" fill="#111" transform="rotate(0.03 322.0 315.97)" stroke="#111" stroke-width="0.150">MAPK and PI3K Signaling</text><text x="322.0" y="319.63" font-size="3.3" text-anchor="end" fill="#111" transform="rotate(0.03 322.0 319.63)" stroke="#111" stroke-width="0.150">Antigen processing and presentation</text><text x="322.0" y="323.28" font-size="3.3" text-anchor="end" fill="#111" transform="rotate(0.03 322.0 323.28)" stroke="#111" stroke-width="0.150">Cytotoxicity</text><text x="322.0" y="326.93" font-size="3.3" text-anchor="end" fill="#111" transform="rotate(0.03 322.0 326.93)" stroke="#111" stroke-width="0.150">Type I interferon signaling</text><text x="322.0" y="330.59" font-size="3.3" text-anchor="end" fill="#111" transform="rotate(0.03 322.0 330.59)" stroke="#111" stroke-width="0.150">Th17</text><text x="322.0" y="334.24" font-size="3.3" text-anchor="end" fill="#111" transform="rotate(0.03 322.0 334.24)" stroke="#111" stroke-width="0.150">Th2</text><text x="322.0" y="337.89" font-size="3.3" text-anchor="end" fill="#111" transform="rotate(0.03 322.0 337.89)" stroke="#111" stroke-width="0.150">NKT receptors</text><text x="322.0" y="341.55" font-size="3.3" text-anchor="end" fill="#111" transform="rotate(0.03 322.0 341.55)" stroke="#111" stroke-width="0.150">Interleukin signaling</text><text x="322.0" y="345.20" font-size="3.3" text-anchor="end" fill="#111" transform="rotate(0.03 322.0 345.20)" stroke="#111" stroke-width="0.150">Oxidative phosphorylation</text><text x="322.0" y="348.85" font-size="3.3" text-anchor="end" fill="#111" transform="rotate(0.03 322.0 348.85)" stroke="#111" stroke-width="0.150">Type II interferon signaling</text><text x="322.0" y="352.50" font-size="3.3" text-anchor="end" fill="#111" transform="rotate(0.03 322.0 352.50)" stroke="#111" stroke-width="0.150">Cell cycle</text><text x="322.0" y="356.16" font-size="3.3" text-anchor="end" fill="#111" transform="rotate(0.03 322.0 356.16)" stroke="#111" stroke-width="0.150">TCR diversity</text><text x="333.5" y="363.45" font-size="4.3" text-anchor="middle" fill="#222" transform="rotate(0.03 333.5 363.45)" stroke="#222" stroke-width="0.156">0</text><text x="377.5" y="363.45" font-size="4.3" text-anchor="middle" fill="#222" transform="rotate(0.03 377.5 363.45)" stroke="#222" stroke-width="0.156">10</text><text x="422.4" y="363.45" font-size="4.3" text-anchor="middle" fill="#222" transform="rotate(0.03 422.4 363.45)" stroke="#222" stroke-width="0.156">20</text><text x="466.2" y="363.45" font-size="4.3" text-anchor="middle" fill="#222" transform="rotate(0.03 466.2 363.45)" stroke="#222" stroke-width="0.156">30</text><text x="511.2" y="363.45" font-size="4.3" text-anchor="middle" fill="#222" transform="rotate(0.03 511.2 363.45)" stroke="#222" stroke-width="0.156">40</text><text x="424.3" y="217.3" font-size="4.37" text-anchor="middle" fill="#111" transform="rotate(0.03 424.3 217.3)" stroke="#111" stroke-width="0.156">Categorical associations of genes upregulated in post-vax biopsy</text><text x="422.1" y="372.3" font-size="4.36" text-anchor="middle" fill="#111" transform="rotate(0.03 422.1 372.3)" stroke="#111" stroke-width="0.156">Percent of genes in each category</text>
</g>
</svg>
</body></html>
